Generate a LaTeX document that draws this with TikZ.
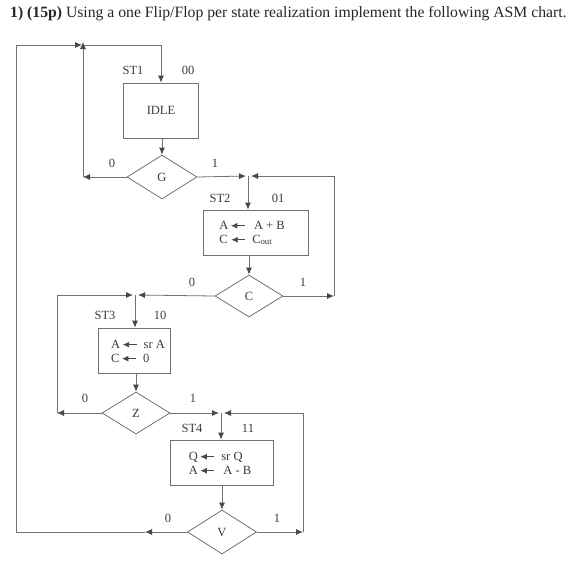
\documentclass[tikz,border=0pt]{standalone}
\usepackage{fontspec}
\setmainfont{Liberation Serif}
\usetikzlibrary{arrows.meta,shapes.geometric}
\definecolor{ln}{HTML}{707070}
\definecolor{tip}{HTML}{3E4C4C}
\definecolor{tx}{HTML}{3A3A3A}
\newcommand\asg[1][14pt]{\tikz[baseline=-0.6ex]\draw[draw=tip,line width=0.9pt,-{Latex[length=6.5pt,width=6pt]}] (#1,0pt) -- (0pt,0pt);}
\tikzset{
  con/.style={draw=ln, line width=0.8pt},
  arr/.style={con, -{Latex[length=7pt,width=6pt,color=tip]}},
  box/.style={draw=ln, line width=0.8pt, rectangle, inner sep=0pt, text=tx, font=\fontsize{12.5}{15}\selectfont},
  dia/.style={draw=ln, line width=0.8pt, diamond, inner sep=0pt, text=tx, font=\fontsize{12.5}{15}\selectfont},
  lbl/.style={text=tx, inner sep=0pt, font=\fontsize{12.5}{15}\selectfont},
  body/.style={text=tx, inner sep=0pt, align=left, font=\fontsize{12.5}{14}\selectfont},
}
\begin{document}
\begin{tikzpicture}[x=1pt,y=-1pt]
\useasboundingbox (0,0) rectangle (577,566);
\node[anchor=base west, text=black!85, inner sep=0pt, font=\fontsize{15.7}{18}\selectfont] (title) at (10,17) {\textbf{1) (15p)} Using a one Flip/Flop per state realization implement the following ASM chart.};

% states and decisions
\node[box, minimum width=75pt, minimum height=55pt] (idle) at (161,110.5) {IDLE};
\node[dia, minimum width=70pt, minimum height=44pt] (G) at (162,177) {G};
\node[box, minimum width=105pt, minimum height=45pt] (st2) at (255.5,232.5) {};
\node[body] (st2t) at (252,233) {A\,\asg\;\, A + B\\C \asg\; C\textsubscript{out}};
\node[dia, minimum width=68pt, minimum height=42pt] (C) at (249,296) {C};
\node[box, minimum width=72pt, minimum height=45pt] (st3) at (134,350.5) {};
\node[body] (st3t) at (138,351) {A\,\asg\; sr A\\C\,\asg\; 0};
\node[dia, minimum width=68pt, minimum height=42pt] (Z) at (136,413) {Z};
\node[box, minimum width=103pt, minimum height=45pt] (st4) at (221.5,462.5) {};
\node[body] (st4t) at (220,463) {Q\,\asg\; sr Q\\A\,\asg\;\, A - B};
\node[dia, minimum width=69pt, minimum height=44pt] (V) at (222,532) {V};

% labels
\node[lbl] (l1a) at (133,70) {ST1};
\node[lbl] (l1b) at (188,70) {00};
\node[lbl] (g0l) at (112,163) {0};
\node[lbl] (g1l) at (215,163) {1};
\node[lbl] (l2a) at (220,198) {ST2};
\node[lbl] (l2b) at (278,198) {01};
\node[lbl] (c0l) at (192,282) {0};
\node[lbl] (c1l) at (303,282) {1};
\node[lbl] (l3a) at (105,315) {ST3};
\node[lbl] (l3b) at (160,315) {10};
\node[lbl] (z0l) at (85,398) {0};
\node[lbl] (z1l) at (193,398) {1};
\node[lbl] (l4a) at (192,428) {ST4};
\node[lbl] (l4b) at (248,428) {11};
\node[lbl] (v0l) at (168,518) {0};
\node[lbl] (v1l) at (277,518) {1};

% junction points
\coordinate (j1) at (83,45);
\coordinate (tl) at (16,45);
\coordinate (bl) at (16,532);
\coordinate (g0) at (83,177);
\coordinate (j2) at (248,176);
\coordinate (cr) at (334,296);
\coordinate (crt) at (334,176);
\coordinate (j3) at (135,295);
\coordinate (zl) at (57,413);
\coordinate (zlt) at (57,295);
\coordinate (j4) at (221,413);
\coordinate (vr) at (303,532);
\coordinate (vrt) at (303,413);
\coordinate (vm) at (145,532);

% connectors
\draw[arr] (j1) -| (idle.north);
\draw[arr] (G.north |- idle.south) -- (G.north);
\draw[arr] (G.west) -- (g0);
\draw[arr] (g0) -- ([yshift=3pt]j1);
\draw[arr] (G.east) -- ([xshift=-2pt]j2);
\draw[arr] (j2) -- (j2 |- st2.north);
\draw[arr] (C.north |- st2.south) -- (C.north);
\draw[arr] (C.east) -- (cr);
\draw[arr] (cr) -- (crt) -- ([xshift=3pt]j2);
\draw[arr] (C.west) -- ([xshift=3pt]j3);
\draw[arr] (j3) -- (j3 |- st3.north);
\draw[arr] (Z.north |- st3.south) -- (Z.north);
\draw[arr] (Z.west) -- (zl);
\draw[arr] (zl) -- (zlt) -- ([xshift=-2pt]j3);
\draw[arr] (Z.east) -- ([xshift=-2pt]j4);
\draw[arr] (j4) -- (j4 |- st4.north);
\draw[arr] (V.north |- st4.south) -- (V.north);
\draw[arr] (V.east) -- (vr);
\draw[arr] (vr) -- (vrt) -- ([xshift=3pt]j4);
\draw[arr] (V.west) -- (vm);
\draw[arr] (vm) -- (bl) -- (tl) -- ([xshift=-1pt]j1);
\end{tikzpicture}
\end{document}
